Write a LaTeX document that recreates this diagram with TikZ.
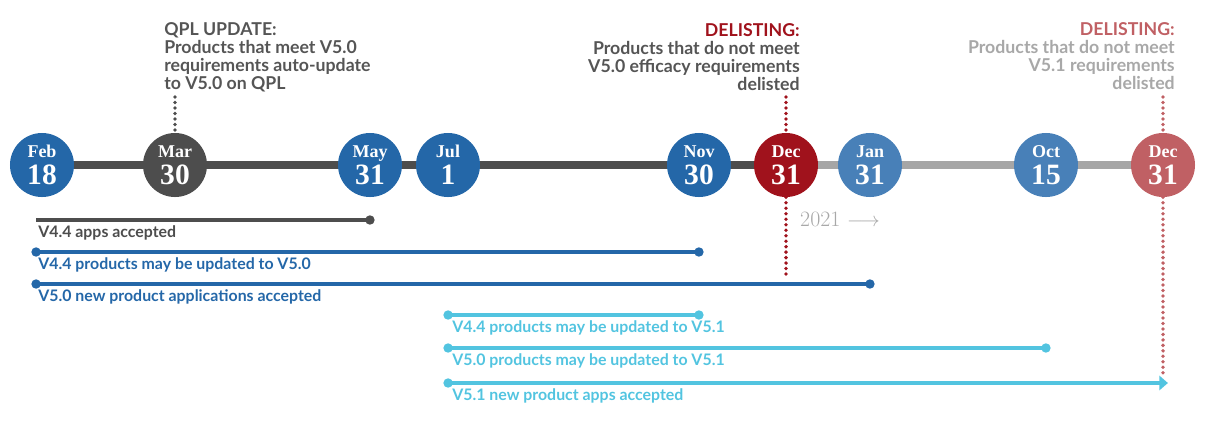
\documentclass[tikz,border=0pt]{standalone}
\usepackage{fontspec}
\setsansfont{Lato}
\newfontfamily\datefam{Liberation Serif}
\usepackage{tikz}
\usetikzlibrary{arrows.meta}
\definecolor{tlblue}{RGB}{36,103,168}
\definecolor{tlsky}{RGB}{72,128,184}
\definecolor{tlred}{RGB}{160,18,28}
\definecolor{tlrose}{RGB}{192,96,100}
\definecolor{tldark}{RGB}{77,77,77}
\definecolor{tllight}{RGB}{166,166,166}
\definecolor{tlcyan}{RGB}{82,196,224}
\definecolor{tlnote}{RGB}{85,85,85}
\definecolor{tlfaint}{RGB}{168,168,168}
\newcommand{\dayfont}{\fontsize{21pt}{19pt}\selectfont}

\begin{document}
\begin{tikzpicture}[x=0.025cm,y=-0.025cm,
    datecirc/.style={circle,minimum size=1.6cm,inner sep=0pt,text=white,align=center,
      font=\datefam\bfseries\fontsize{12.8pt}{19pt}\selectfont},
    beads/.style={line width=2.7pt,line cap=round,dash pattern=on 0pt off 3.9pt},
    bar/.style={line width=2.5pt,shorten <=-3.2pt,shorten >=-3.2pt},
    knob/.tip={Circle[length=6.5pt]},
    barlab/.style={anchor=north west,inner sep=0pt,font=\sffamily\bfseries\fontsize{11.3pt}{12pt}\selectfont},
    note/.style={inner sep=0pt,font=\sffamily\bfseries\fontsize{12.6pt}{12.8pt}\selectfont}]
    \useasboundingbox (0,0) rectangle (1217,429);
    % dates on the line
    \foreach \n/\x/\m/\d/\c in {feb/42/Feb/18/tlblue, mar/175/Mar/30/tldark, may/370/May/31/tlblue,
        jul/448/Jul/1/tlblue, nov/699/Nov/30/tlblue, dec/786/Dec/31/tlred, jan/870/Jan/31/tlsky,
        oct/1046/Oct/15/tlsky, decb/1163/Dec/31/tlrose}
      \node[datecirc,fill=\c] (\n) at (\x,165) {\m\\{\dayfont\d}};
    \draw[line width=5pt,tldark] (feb) -- (mar) -- (may) -- (jul) -- (nov) -- (dec);
    \draw[line width=5pt,tllight] (dec) -- (jan) -- (oct) -- (decb);
    % dotted markers
    \coordinate (qtip) at (175,97);
    \coordinate (d1top) at (786,97);
    \coordinate (d1bot) at (786,275);
    \coordinate (d2top) at (1163,97);
    \coordinate (d2bot) at (1163,374);
    \draw[beads,tldark] (qtip) -- (mar);
    \draw[beads,tlred] (d1top) -- (dec);
    \draw[beads,tlred] (dec) -- (d1bot);
    \draw[beads,tlrose] (d2top) -- (decb);
    \draw[beads,tlrose] (decb) -- (d2bot);
    \node[note,text=tlnote,anchor=north west,align=left] (qpl) at (164,22)
      {QPL UPDATE:\\Products that meet V5.0\\requirements auto-update\\to V5.0 on QPL};
    \node[note,text=tlnote,anchor=north east,align=right] (delone) at (800,23)
      {\textcolor{tlred}{DELISTING:}\\Products that do not meet\\V5.0 efficacy requirements\\delisted};
    \node[note,text=tlfaint,anchor=north east,align=right] (deltwo) at (1175,22)
      {\textcolor{tlrose}{DELISTING:}\\Products that do not meet\\V5.1 requirements\\delisted};
    \node[text=tlfaint,font=\fontsize{15.6pt}{16pt}\selectfont] (yr) at (840,219) {2021 $\longrightarrow$};
    % bars
    \coordinate (r1) at (36,220);
    \coordinate (r2) at (36,252);
    \coordinate (r3) at (36,284);
    \coordinate (r4) at (448,315);
    \coordinate (r5) at (448,348);
    \coordinate (r6) at (448,383);
    \draw[bar,tldark,-knob,shorten <=0pt] (r1) -- (r1 -| may);
    \draw[bar,tlblue,knob-knob] (r2) -- (r2 -| nov);
    \draw[bar,tlblue,knob-knob] (r3) -- (r3 -| jan);
    \draw[bar,tlcyan,knob-knob] (r4) -- (r4 -| nov);
    \draw[bar,tlcyan,knob-knob] (r5) -- (r5 -| oct);
    \draw[bar,tlcyan,knob-{Triangle[length=6pt,width=10pt]},shorten >=-3.5pt] (r6) -- (r6 -| decb);
    \node[barlab,text=tldark] (t1) at ([shift={(2,5)}]r1) {V4.4 apps accepted};
    \node[barlab,text=tlblue] (t2) at ([shift={(2,5)}]r2) {V4.4 products may be updated to V5.0};
    \node[barlab,text=tlblue] (t3) at ([shift={(2,5)}]r3) {V5.0 new product applications accepted};
    \node[barlab,text=tlcyan] (t4) at ([shift={(4,5)}]r4) {V4.4 products may be updated to V5.1};
    \node[barlab,text=tlcyan] (t5) at ([shift={(4,5)}]r5) {V5.0 products may be updated to V5.1};
    \node[barlab,text=tlcyan] (t6) at ([shift={(4,5)}]r6) {V5.1 new product apps accepted};
  \end{tikzpicture}
\end{document}
